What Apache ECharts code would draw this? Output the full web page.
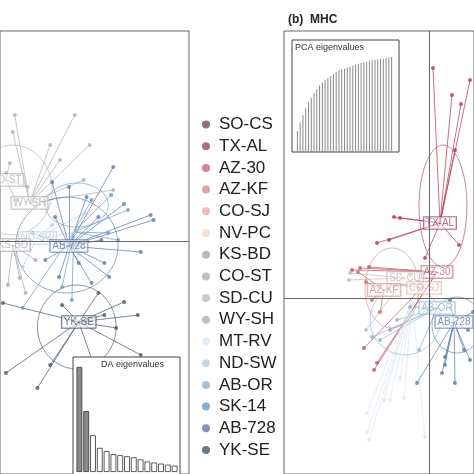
<!DOCTYPE html>
<html><head><meta charset="utf-8">
<script src="https://cdn.jsdelivr.net/npm/echarts@6/dist/echarts.min.js"></script>
<style>html,body{margin:0;background:#fff}#c{width:474px;height:474px}</style>
</head><body><div id="c"></div>
<script>
// populations and their colours (legend order)
const pops = ['SO-CS','TX-AL','AZ-30','AZ-KF','CO-SJ','NV-PC','KS-BD','CO-ST','SD-CU','WY-SH','MT-RV','ND-SW','AB-OR','SK-14','AB-728','YK-SE'];
const popColors = ['#7b4a5c','#a34662','#c4667a','#d48c8c','#e6b0a4','#f0d8cc','#a9a9a9','#b3b3b3','#bbbbbb','#b0b0b0','#dce8f2','#b6cfe2','#8cb3d2','#6b9bc6','#5a7ca6','#45566f'];
// centroids drawn without a box label
const unlabelled = ['SK-14','MT-RV'];

// panel (a): centroids and individual scores
const leftCentroids = {'WY-SH':[27,203],'CO-ST':[3,180],'ND-SW':[35,238],'KS-BD':[10,245],'AB-728':[67,246],'SK-14':[72,232],'YK-SE':[77,322]};
const leftPoints = {
  'WY-SH':[[12,115],[73,115],[88,145],[48,145],[58,160],[112,190],[10,132],[33,207],[82,180]],
  'CO-ST':[[3,173],[13,200],[7,163],[25,187]],
  'ND-SW':[[83,213],[72,233],[20,267],[77,253],[50,225]],
  'KS-BD':[[17,278],[33,260],[23,293],[5,285]],
  'AB-728':[[112,167],[123,204],[150,215],[153,220],[140,252],[108,277],[103,263],[50,182],[67,187],[85,197],[30,233],[43,260],[57,277],[77,263],[97,217],[53,217],[100,240],[90,283]],
  'SK-14':[[90,200],[107,233],[70,300],[60,287],[20,308],[117,240],[127,210],[110,195]],
  'YK-SE':[[137,315],[123,302],[115,328],[140,355],[48,365],[35,388],[3,373],[110,415],[60,305],[97,293],[103,315],[0,303]]
};
const leftEllipses = [['WY-SH',10,190,40,45],['AB-728',65,245,52,48],['SK-14',75,205,32,22],['YK-SE',75,327,40,42]];

// panel (b)
const rightCentroids = {'TX-AL':[440,223],'AZ-30':[437,272],'SD-CU':[405,278],'AZ-KF':[384,290],'CO-SJ':[424,288],'AB-OR':[437,308],'MT-RV':[412,300],'AB-728':[454,322]};
const rightPoints = {
  'TX-AL':[[433,68],[452,95],[461,104],[455,150],[394,217],[400,218],[377,243],[389,240],[459,245],[425,258],[470,80]],
  'AZ-30':[[360,268],[369,267],[364,348],[374,370],[377,363],[352,270]],
  'AZ-KF':[[358,272],[366,282],[372,300],[380,312]],
  'SD-CU':[[350,273],[349,280],[366,330]],
  'CO-SJ':[[410,275],[420,282],[395,285]],
  'AB-OR':[[410,307],[397,320],[419,350],[380,340],[372,337],[390,330]],
  'MT-RV':[[367,413],[367,432],[369,440],[390,400],[425,437],[404,398],[400,378],[384,400]],
  'AB-728':[[445,365],[442,373],[455,383],[445,357],[417,383],[470,360],[464,350],[473,312],[468,330],[450,300]]
};
const rightEllipses = [['TX-AL',443,206,24,61],['AZ-KF',392,288,27,40],['AB-OR',405,320,35,35],['AB-728',457,325,25,28]];
const rightLineColors = {'TX-AL':'#b83a4c','AZ-30':'#c9505e','AZ-KF':'#c96a6a'};

// insets
const daEigen = [100,58,35,23,20,17,16,15,14,12,10,9,8,7,6];
const pcaEigen = [22,31,39,46,52,57,62,66,70,73,76,78,80,82,84,86,87,88,89,90,91,92,93,94,94.5,95,96,96.5,97,97.5,98,98.5,99,99.5,100];

const colorOf = p => popColors[pops.indexOf(p)];
const series = [];

function panel(idx, cents, pts, ells, lineCols) {
  Object.keys(pts).forEach(p => {
    const c = cents[p], col = (lineCols && lineCols[p]) || colorOf(p);
    series.push({type:'lines', coordinateSystem:'cartesian2d', xAxisIndex:idx, yAxisIndex:idx, silent:true,
      lineStyle:{color:col, width:0.8, opacity:0.9},
      data: pts[p].map(q => ({coords:[c, q]}))});
    series.push({type:'scatter', xAxisIndex:idx, yAxisIndex:idx, symbolSize:4, silent:true,
      itemStyle:{color:col}, data: pts[p]});
  });
  series.push({type:'custom', xAxisIndex:idx, yAxisIndex:idx, silent:true, data: ells.map(e => e.slice(1)),
    renderItem: (params, api) => {
      const e = ells[params.dataIndex];
      const c = api.coord([api.value(0), api.value(1)]);
      const rx = api.size([api.value(2), 0])[0], ry = api.size([0, api.value(3)])[1];
      const poly = [];
      for (let i = 0; i < 48; i++) { const a = i / 48 * Math.PI * 2; poly.push([c[0] + rx * Math.cos(a), c[1] + ry * Math.sin(a)]); }
      return {type:'polygon', shape:{points:poly}, style:{fill:'none', stroke:colorOf(e[0]), lineWidth:0.8, opacity:0.8}};
    }});
  series.push({type:'scatter', xAxisIndex:idx, yAxisIndex:idx, symbolSize:1, silent:true, z:4,
    data: Object.keys(cents).filter(p => unlabelled.indexOf(p) < 0).map(p => ({value:cents[p], label:{show:true, position:'inside', formatter:p, color:colorOf(p),
      fontSize:10, backgroundColor:'rgba(255,255,255,0.6)', borderColor:colorOf(p), borderWidth:0.8, padding:[1,2]}})),
    itemStyle:{color:'transparent'}});
}
panel(0, leftCentroids, leftPoints, leftEllipses);
panel(1, rightCentroids, rightPoints, rightEllipses, rightLineColors);

// axis cross lines
series.push({type:'scatter', xAxisIndex:0, yAxisIndex:0, data:[], markLine:{silent:true, symbol:'none', label:{show:false},
  lineStyle:{color:'#666', type:'solid', width:1}, data:[{yAxis:241}]}});
series.push({type:'scatter', xAxisIndex:1, yAxisIndex:1, data:[], markLine:{silent:true, symbol:'none', label:{show:false},
  lineStyle:{color:'#666', type:'solid', width:1}, data:[{yAxis:298},{xAxis:429}]}});

// legend carriers
pops.forEach((p, i) => series.push({name:p, type:'scatter', xAxisIndex:0, yAxisIndex:0, data:[], itemStyle:{color:popColors[i]}}));

// inset bars
series.push({type:'bar', xAxisIndex:2, yAxisIndex:2, barCategoryGap:'15%', silent:true, z:10,
  data: daEigen.map((v, i) => ({value:v, itemStyle:{color:i < 2 ? '#8a8a8a' : '#fff', borderColor:'#333', borderWidth:0.8}}))});
series.push({type:'bar', xAxisIndex:3, yAxisIndex:3, barWidth:1, silent:true, z:10, itemStyle:{color:'#888'}, data: pcaEigen});

const chart = echarts.init(document.getElementById('c'));
chart.setOption({
  animation:false,
  title:{text:'(b)  MHC', left:283, top:9, textStyle:{fontSize:12, fontWeight:'bold', color:'#222', fontFamily:'Liberation Sans'}},
  legend:{data:pops, orient:'vertical', left:197, top:111, icon:'circle', itemWidth:8, itemHeight:8, itemGap:4.7,
    selectedMode:false, textStyle:{fontSize:17, color:'#222', fontFamily:'Liberation Sans', padding:[0,0,0,4]}},
  grid:[
    {left:-3, top:31, width:192, height:443, show:true, borderColor:'#666', borderWidth:1},
    {left:284, top:31, width:190, height:443, show:true, borderColor:'#666', borderWidth:1},
    {left:76, top:367, width:102, height:105},
    {left:296, top:57, width:97, height:95}
  ],
  xAxis:[
    {type:'value', gridIndex:0, min:-3, max:189, show:false},
    {type:'value', gridIndex:1, min:284, max:474, show:false},
    {type:'category', gridIndex:2, data:daEigen.map((v,i)=>i+1), show:false},
    {type:'category', gridIndex:3, data:pcaEigen.map((v,i)=>i+1), show:false}
  ],
  yAxis:[
    {type:'value', gridIndex:0, min:31, max:474, inverse:true, show:false},
    {type:'value', gridIndex:1, min:31, max:474, inverse:true, show:false},
    {type:'value', gridIndex:2, min:0, max:100, show:false},
    {type:'value', gridIndex:3, min:0, max:100, show:false}
  ],
  graphic:[
    {type:'rect', shape:{x:73, y:357, width:107, height:130}, style:{fill:'#fff', stroke:'#444', lineWidth:1}, z:5},
    {type:'text', left:101, top:360, style:{text:'DA eigenvalues', fontSize:9, fill:'#333', fontFamily:'Liberation Sans'}, z:6},
    {type:'rect', shape:{x:292, y:40, width:107, height:112}, style:{fill:'#fff', stroke:'#444', lineWidth:1}, z:5},
    {type:'text', left:295, top:43, style:{text:'PCA eigenvalues', fontSize:9, fill:'#333', fontFamily:'Liberation Sans'}, z:6}
  ],
  series: series
});
</script></body></html>
